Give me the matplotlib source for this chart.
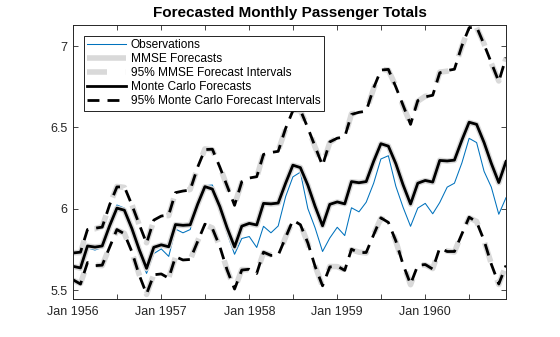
import numpy as np
import matplotlib
matplotlib.use("Agg")
import matplotlib.pyplot as plt
import matplotlib.dates as mdates
from matplotlib.ticker import FixedLocator, FuncFormatter

plt.rcParams['font.family'] = ['Liberation Sans', 'DejaVu Sans']

# Monthly dates, Jan 1956 - Dec 1960
dates = np.arange('1956-01', '1961-01', dtype='datetime64[M]').astype('datetime64[D]')

# Observed log passenger totals
observed = [
    5.649, 5.624, 5.759, 5.746, 5.762, 5.924, 6.023, 6.004, 5.872, 5.724, 5.602, 5.724,
    5.753, 5.707, 5.875, 5.852, 5.872, 6.045, 6.142, 6.146, 6.001, 5.849, 5.720, 5.817,
    5.829, 5.762, 5.892, 5.852, 5.894, 6.075, 6.196, 6.225, 6.001, 5.883, 5.737, 5.820,
    5.886, 5.835, 6.006, 5.981, 6.040, 6.157, 6.306, 6.326, 6.138, 6.009, 5.892, 6.004,
    6.033, 5.969, 6.038, 6.133, 6.157, 6.282, 6.433, 6.407, 6.230, 6.133, 5.966, 6.068,
]

# MMSE forecasts and 95% intervals
mmse_forecast = [
    5.645, 5.635, 5.770, 5.765, 5.770, 5.895, 6.003, 5.990, 5.880, 5.750, 5.632, 5.762,
    5.777, 5.767, 5.902, 5.897, 5.902, 6.027, 6.135, 6.122, 6.012, 5.882, 5.764, 5.894,
    5.909, 5.899, 6.034, 6.029, 6.034, 6.159, 6.267, 6.254, 6.144, 6.014, 5.896, 6.026,
    6.041, 6.031, 6.166, 6.161, 6.166, 6.291, 6.399, 6.386, 6.276, 6.146, 6.028, 6.158,
    6.173, 6.163, 6.298, 6.293, 6.298, 6.423, 6.531, 6.518, 6.408, 6.278, 6.160, 6.290,
]
mmse_upper = [
    5.730, 5.730, 5.874, 5.877, 5.890, 6.023, 6.137, 6.131, 6.027, 5.903, 5.791, 5.927,
    5.958, 5.958, 6.102, 6.106, 6.119, 6.252, 6.368, 6.362, 6.260, 6.137, 6.025, 6.162,
    6.193, 6.193, 6.338, 6.342, 6.357, 6.491, 6.607, 6.603, 6.501, 6.379, 6.269, 6.407,
    6.438, 6.438, 6.584, 6.589, 6.604, 6.739, 6.857, 6.853, 6.753, 6.632, 6.523, 6.661,
    6.692, 6.694, 6.840, 6.846, 6.862, 6.998, 7.117, 7.114, 7.014, 6.894, 6.786, 6.926,
]
mmse_lower = [
    5.560, 5.540, 5.666, 5.653, 5.650, 5.767, 5.869, 5.849, 5.733, 5.597, 5.473, 5.597,
    5.596, 5.576, 5.702, 5.688, 5.685, 5.802, 5.902, 5.882, 5.764, 5.627, 5.503, 5.626,
    5.625, 5.605, 5.730, 5.716, 5.711, 5.827, 5.927, 5.905, 5.787, 5.649, 5.523, 5.645,
    5.644, 5.624, 5.748, 5.733, 5.728, 5.843, 5.941, 5.919, 5.799, 5.660, 5.533, 5.655,
    5.654, 5.632, 5.756, 5.740, 5.734, 5.848, 5.945, 5.922, 5.802, 5.662, 5.534, 5.654,
]

# Monte Carlo forecasts and 95% intervals
mc_forecast = [
    5.646, 5.636, 5.771, 5.764, 5.771, 5.896, 6.004, 5.991, 5.879, 5.751, 5.633, 5.763,
    5.778, 5.766, 5.903, 5.898, 5.901, 6.028, 6.136, 6.121, 6.013, 5.883, 5.765, 5.893,
    5.910, 5.900, 6.033, 6.030, 6.035, 6.158, 6.268, 6.253, 6.145, 6.015, 5.895, 6.027,
    6.042, 6.030, 6.167, 6.160, 6.167, 6.292, 6.400, 6.385, 6.277, 6.147, 6.029, 6.157,
    6.174, 6.164, 6.297, 6.294, 6.299, 6.422, 6.532, 6.519, 6.407, 6.279, 6.161, 6.291,
]
mc_upper = [
    5.728, 5.733, 5.872, 5.880, 5.887, 6.025, 6.134, 6.135, 6.024, 5.906, 5.788, 5.930,
    5.955, 5.962, 6.099, 6.109, 6.115, 6.256, 6.364, 6.366, 6.256, 6.141, 6.021, 6.166,
    6.189, 6.197, 6.334, 6.346, 6.353, 6.495, 6.603, 6.607, 6.497, 6.383, 6.265, 6.411,
    6.434, 6.442, 6.580, 6.593, 6.600, 6.743, 6.853, 6.857, 6.749, 6.636, 6.519, 6.665,
    6.688, 6.698, 6.836, 6.850, 6.858, 7.002, 7.113, 7.118, 7.010, 6.898, 6.782, 6.930,
]
mc_lower = [
    5.563, 5.537, 5.669, 5.650, 5.653, 5.764, 5.872, 5.846, 5.736, 5.594, 5.476, 5.594,
    5.599, 5.573, 5.705, 5.685, 5.688, 5.799, 5.905, 5.879, 5.767, 5.624, 5.506, 5.623,
    5.628, 5.602, 5.733, 5.713, 5.714, 5.824, 5.930, 5.902, 5.790, 5.646, 5.526, 5.642,
    5.647, 5.621, 5.751, 5.730, 5.731, 5.840, 5.944, 5.916, 5.802, 5.657, 5.536, 5.652,
    5.657, 5.629, 5.759, 5.737, 5.737, 5.845, 5.948, 5.919, 5.805, 5.659, 5.537, 5.651,
]

legend_labels = [
    "Observations",
    "MMSE Forecasts",
    "95% MMSE Forecast Intervals",
    "Monte Carlo Forecasts",
    "95% Monte Carlo Forecast Intervals",
]

y_ticks = [5.5, 6.0, 6.5, 7.0]

blue = (0.0, 0.447, 0.741)
light_gray = (0.85, 0.85, 0.85)
axis_gray = (0.15, 0.15, 0.15)

fig = plt.figure(figsize=(5.6, 3.37), dpi=100)
ax = fig.add_axes([0.1304, 0.1128, 0.7732, 0.8130])

h1, = ax.plot(dates, observed, color=blue, lw=0.75)
h2, = ax.plot(dates, mmse_forecast, color=light_gray, lw=4, solid_capstyle='butt')
h3, = ax.plot(dates, mmse_upper, color=light_gray, lw=4, dashes=(3.6, 3.4))
ax.plot(dates, mmse_lower, color=light_gray, lw=4, dashes=(3.6, 3.4))
h4, = ax.plot(dates, mc_forecast, color='black', lw=2)
h5, = ax.plot(dates, mc_upper, color='black', lw=2, dashes=(4.3, 2.9))
ax.plot(dates, mc_lower, color='black', lw=2, dashes=(4.3, 2.9))

ax.set_xlim(dates[0], dates[-1])
ax.set_ylim(5.445, 7.13)

years = np.arange('1956', '1961', dtype='datetime64[Y]')
jan_ticks = years.astype('datetime64[M]').astype('datetime64[D]')
jul_ticks = (years.astype('datetime64[M]') + 6).astype('datetime64[D]')
ax.xaxis.set_major_locator(FixedLocator(mdates.date2num(jan_ticks)))
ax.xaxis.set_minor_locator(FixedLocator(mdates.date2num(jul_ticks)))
ax.xaxis.set_major_formatter(mdates.DateFormatter('%b %Y'))
ax.set_yticks(y_ticks)
ax.yaxis.set_major_formatter(FuncFormatter(lambda v, p: f"{v:g}"))

ax.tick_params(which='both', direction='in', length=3.5, width=0.6,
               top=True, right=True, colors=axis_gray, labelsize=9, pad=4)
ax.tick_params(axis='x', pad=5)
for s in ax.spines.values():
    s.set_color(axis_gray)
    s.set_linewidth(0.7)

ax.set_title("Forecasted Monthly Passenger Totals", fontsize=11,
             fontweight='bold', color='black', pad=6)

leg = ax.legend([h1, h2, h3, h4, h5], legend_labels, loc='upper left',
                fontsize=8.6, frameon=True, fancybox=False, framealpha=1,
                edgecolor='black', handlelength=3.25, handletextpad=0.4,
                labelspacing=0.17, borderpad=0.3, borderaxespad=0.88)
leg.get_frame().set_linewidth(0.6)
for t in leg.get_texts():
    t.set_color('black')

fig.savefig("out.png", dpi=100)
